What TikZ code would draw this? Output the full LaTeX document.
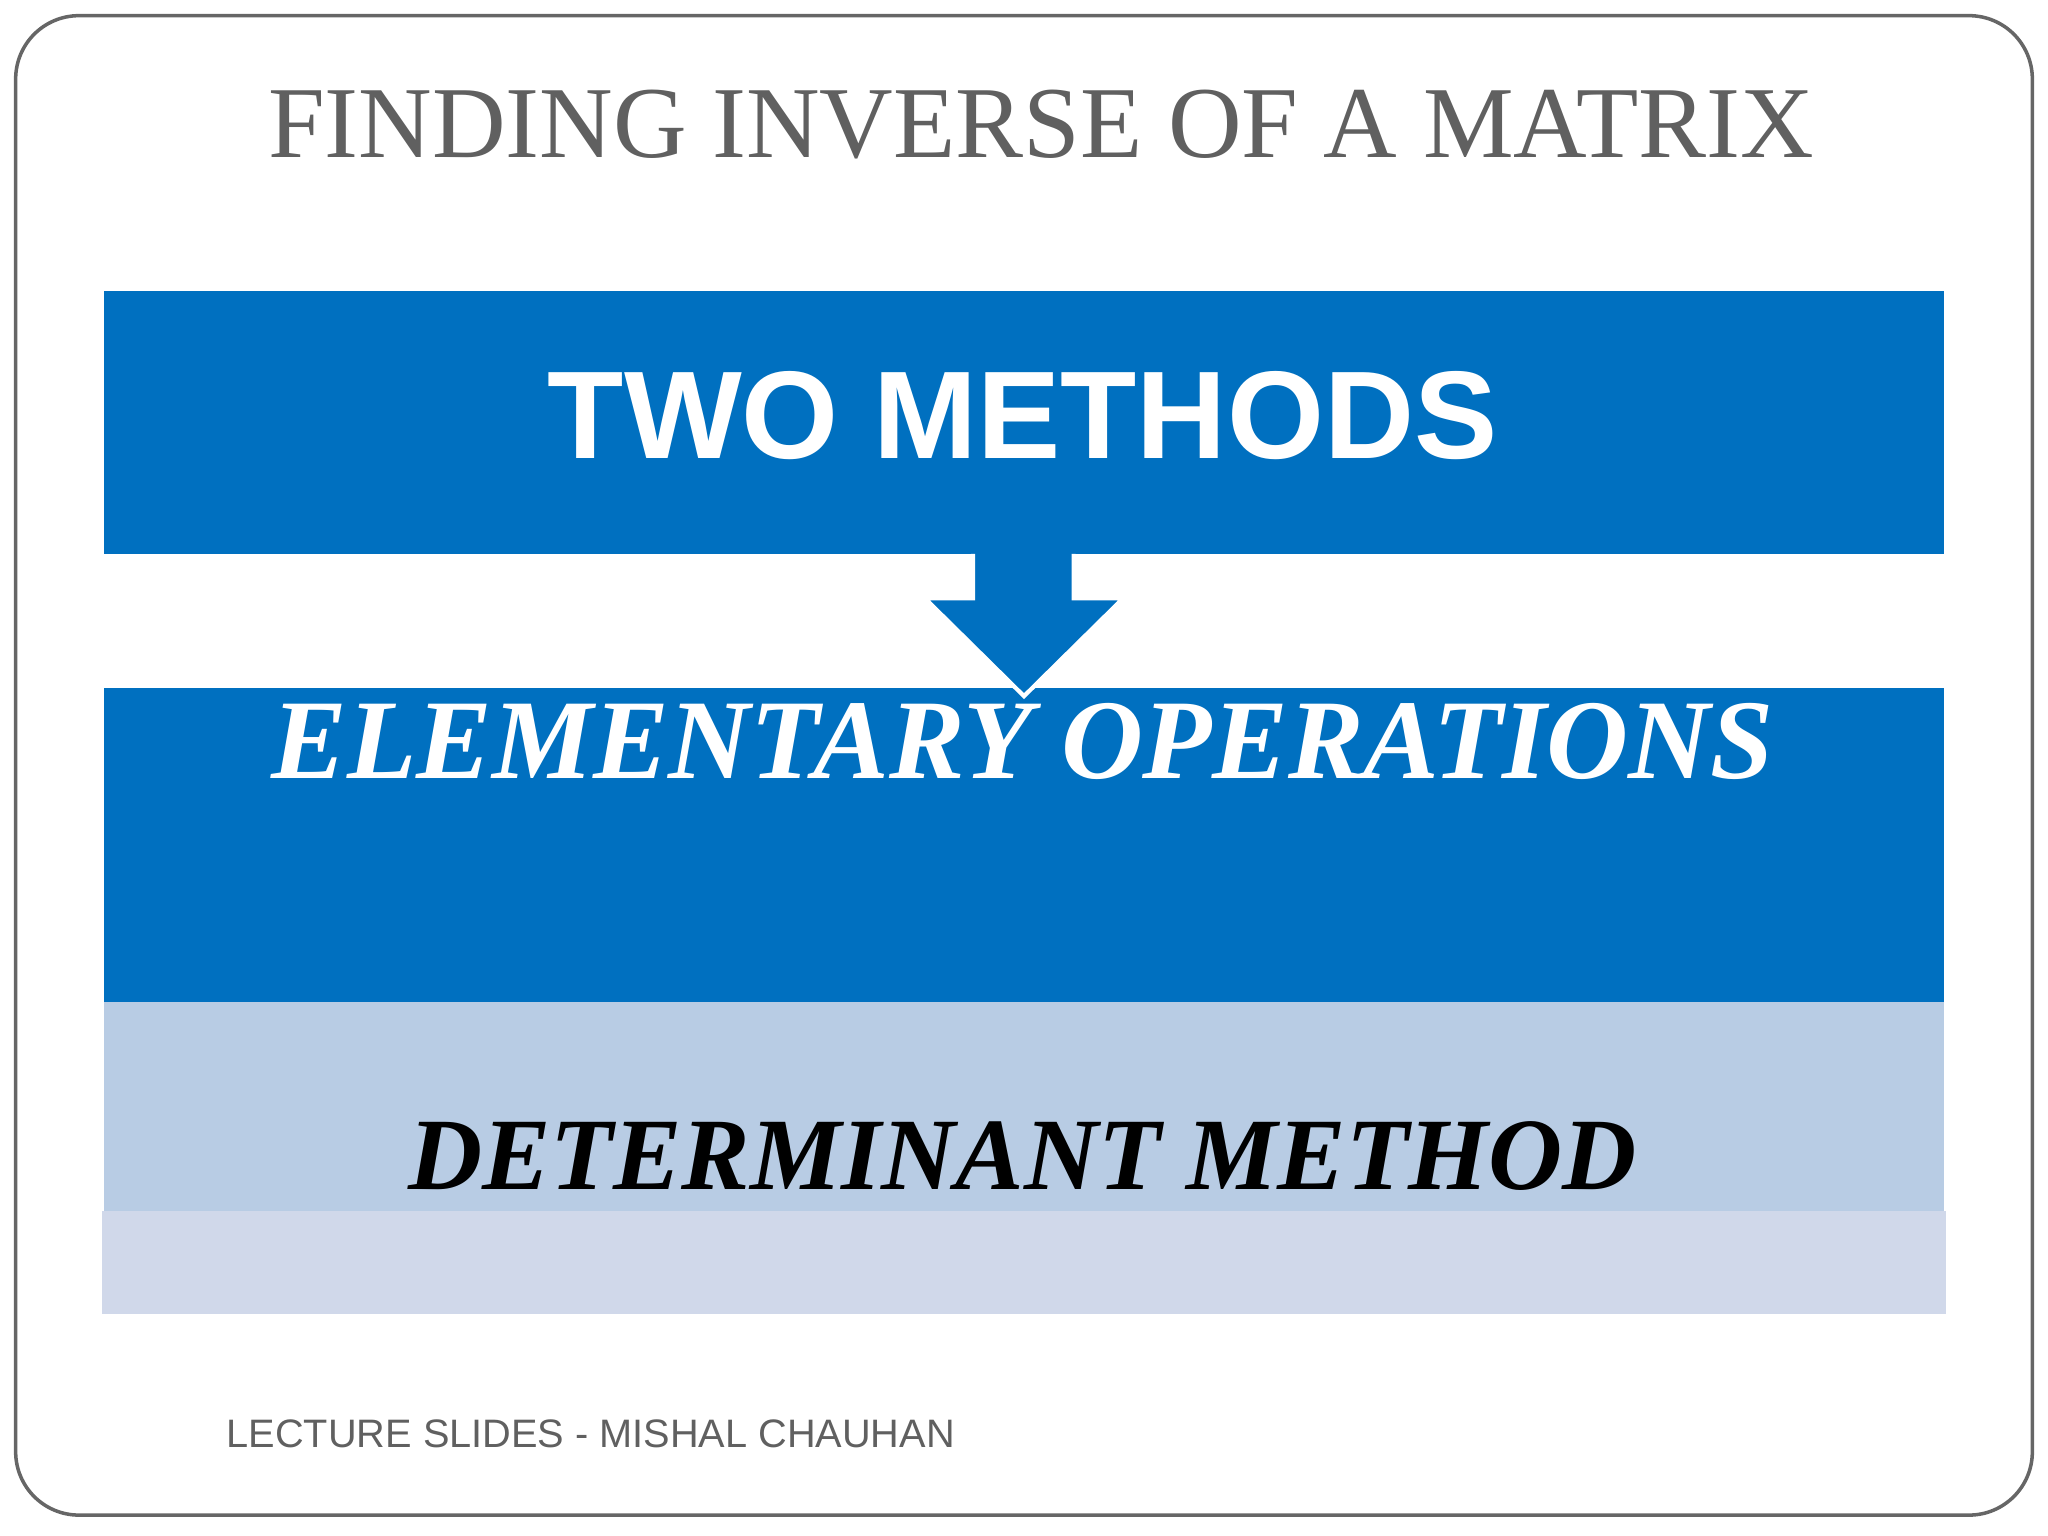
\documentclass[tikz,border=0pt]{standalone}
\usepackage{fontspec}
\setmainfont{Liberation Serif}
\setsansfont{Liberation Sans}
\definecolor{mblue}{HTML}{0070C0}
\definecolor{lblue}{HTML}{B8CCE4}
\definecolor{llblue}{HTML}{D0D8EA}
\definecolor{tgray}{HTML}{606060}
\begin{document}
\begin{tikzpicture}[x=0.013061cm,y=-0.013061cm,
  lbl/.style={inner sep=0pt,anchor=center}]
\useasboundingbox (0,0) rectangle (1568,1176);
\draw[gray!80!black,line width=1pt,rounded corners=18pt] (12,12) rectangle (1556,1160);
\node[lbl,text=tgray,font=\fontsize{29}{29}\selectfont] (title) at (797,95) {FINDING INVERSE OF A MATRIX};
\fill[llblue] (78,927) rectangle (1490,1006);
\fill[lblue] (80,767) rectangle (1488,927);
\fill[mblue] (80,527) rectangle (1488,767);
\fill[mblue] (80,223) rectangle (1488,424);
\draw[white,fill=mblue,line width=1.2pt] (745,424) -- (745,458) -- (708,458) -- (784,533) -- (860,458) -- (822,458) -- (822,424);
\node[lbl,text=white,font=\sffamily\bfseries\fontsize{35.5}{35.5}\selectfont] (two) at (783,318) {TWO METHODS};
\node[lbl,text=white,font=\bfseries\itshape\fontsize{32.3}{32.3}\selectfont] (elem) at (783,568) {ELEMENTARY OPERATIONS};
\node[lbl,text=black,font=\bfseries\itshape\fontsize{29.2}{29.2}\selectfont] (det) at (783,885) {DETERMINANT METHOD};
\node[inner sep=0pt,anchor=west,text=tgray,font=\sffamily\fontsize{11.3}{11.3}\selectfont] (foot) at (173,1098) {LECTURE SLIDES - MISHAL CHAUHAN};
\end{tikzpicture}
\end{document}
